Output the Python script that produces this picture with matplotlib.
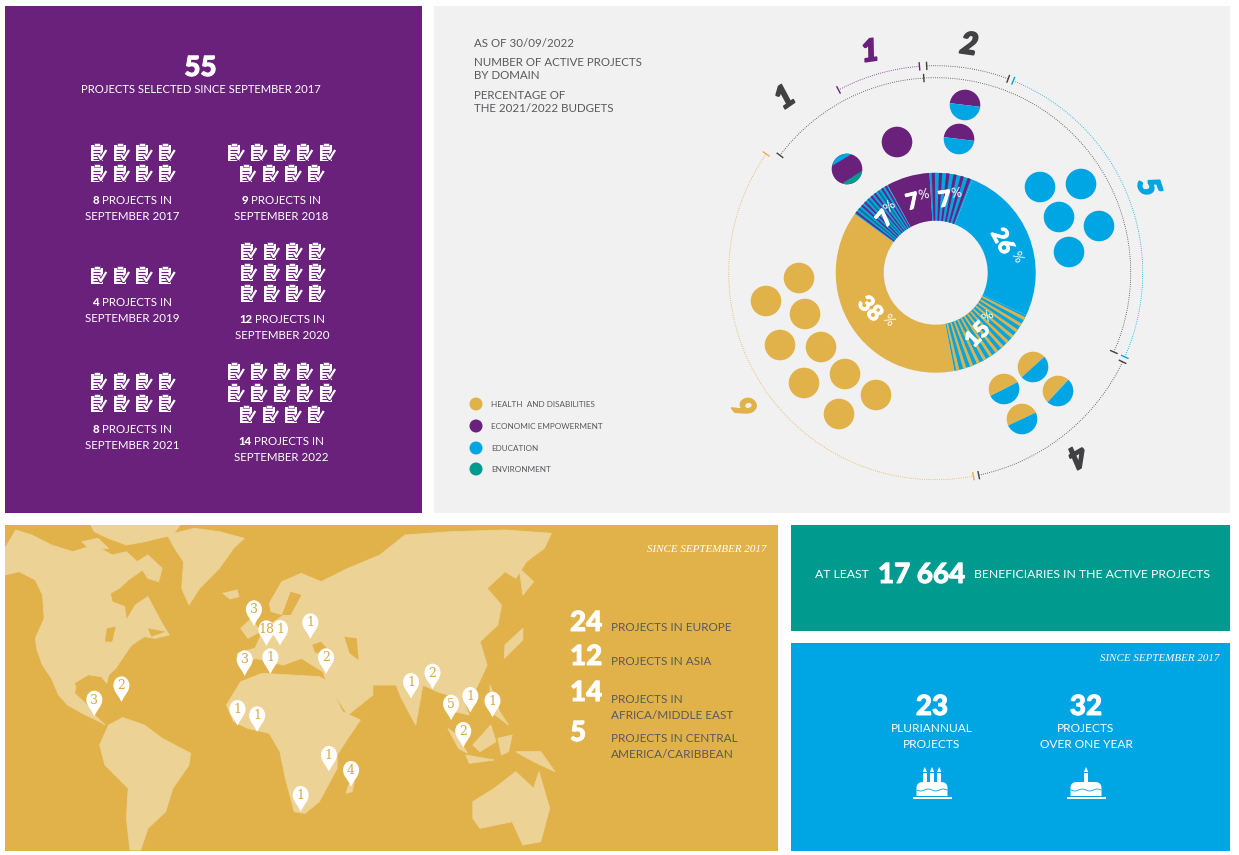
import numpy as np
import matplotlib
matplotlib.use('Agg')
import matplotlib.pyplot as plt
import matplotlib.patheffects as pe
from matplotlib.patches import Rectangle, Circle, Wedge, Polygon, PathPatch
from matplotlib.path import Path

plt.rcParams['font.family'] = ['Lato', 'DejaVu Sans']

PURPLE = '#6A217B'
GOLD = '#E2B24A'
LAND = '#EDD296'
BLUE = '#00A6E3'
TEAL = '#009A8E'
GREY = '#F1F1F2'
DARK = '#58595B'
INK = '#414042'

# donut
domain_shares = [38, 15, 26, 7, 7, 7]
share_labels = ['38', '15', '26', '7', '7', '7']
share_rot = [-47, 47, -62, 8, 14, 50]
ring_numbers = ['1', '1', '2', '5', '4', '6']
legend_names = ['HEALTH  AND DISABILITIES', 'ECONOMIC EMPOWERMENT', 'EDUCATION', 'ENVIRONMENT']

# projects per call
call_counts = [8, 9, 4, 12, 8, 14]
call_months = ['SEPTEMBER 2017', 'SEPTEMBER 2018', 'SEPTEMBER 2019', 'SEPTEMBER 2020', 'SEPTEMBER 2021', 'SEPTEMBER 2022']
call_rows = [[4, 4], [5, 4], [4], [4, 4, 4], [4, 4], [5, 5, 4]]

# map pins
pin_counts = [3, 18, 1, 1, 3, 1, 2, 2, 3, 1, 1, 1, 4, 1, 1, 2, 5, 1, 1, 2]
region_counts = ['24', '12', '14', '5']

fig = plt.figure(figsize=(12.39, 8.55), dpi=100, facecolor='white')
ax = fig.add_axes([0, 0, 1, 1], zorder=1)
ax.set_xlim(0, 1239)
ax.set_ylim(855, 0)
ax.axis('off')


def panel(x0, y0, x1, y1, color):
    r = Rectangle((x0, y0), x1 - x0, y1 - y0, fc=color, ec='none')
    ax.add_patch(r)
    return r


def heavy(t, color, w=0.7):
    # the installed bold is lighter than the one in the picture
    t.set_path_effects([pe.withStroke(linewidth=w, foreground=color)])
    return t


def mixed(x, y, first, rest, size1, size2, color):
    # bold part then regular part on one baseline
    t1 = ax.text(x, y, first, fontsize=size1, color=color, fontweight='black', va='baseline', ha='left')
    t2 = ax.text(x, y, rest, fontsize=size2, color=color, va='baseline', ha='left')
    r = fig.canvas.get_renderer()
    w1 = t1.get_window_extent(r).width
    w2 = t2.get_window_extent(r).width
    left = x - (w1 + w2 + 3) / 2
    t1.set_x(left)
    t2.set_x(left + w1 + 3)


def clipboard(x, y):
    ax.add_patch(Rectangle((x - 7, y - 7.5), 12, 16, fc='white', ec='none'))
    ax.add_patch(Rectangle((x - 4, y - 9.5), 6, 3, fc='white', ec=PURPLE, lw=0.4))
    for dy in (-3, 0, 3, 6):
        ax.plot([x - 5, x + 2], [y + dy, y + dy], color=PURPLE, lw=0.8, solid_capstyle='butt')
    ax.plot([x + 0.5, x + 3, x + 8.5], [y + 2, y + 6, y - 3], color=PURPLE, lw=3.0, solid_capstyle='butt')
    ax.plot([x + 0.5, x + 3, x + 8.5], [y + 2, y + 6, y - 3], color='white', lw=1.6, solid_capstyle='butt')


# ---- purple panel
panel(5, 6, 422, 513, PURPLE)
heavy(ax.text(200.5, 76, '55', color='white', fontsize=20, fontweight='black', ha='center', va='baseline'), 'white')
ax.text(201, 93, 'PROJECTS SELECTED SINCE SEPTEMBER 2017', color='white', fontsize=8.1, ha='center', va='baseline')

group_x = [132, 281, 132, 282, 132, 281]
group_y = [153, 153, 275, 251, 382, 372]
label_y = [204, 204, 306, 323, 433, 445]
for i in range(6):
    for j, n in enumerate(call_rows[i]):
        for k in range(n):
            clipboard(group_x[i] + (k - (n - 1) / 2) * 22.8, group_y[i] + j * 21)
    mixed(group_x[i], label_y[i], str(call_counts[i]), 'PROJECTS IN', 8.3, 8.3, 'white')
    ax.text(group_x[i], label_y[i] + 16, call_months[i], color='white', fontsize=8.3, ha='center', va='baseline')

# ---- donut panel
panel(434, 6, 1230, 513, GREY)
for y, s in zip([47, 66, 79, 99, 112], ['AS OF 30/09/2022', 'NUMBER OF ACTIVE PROJECTS', 'BY DOMAIN',
                                         'PERCENTAGE OF', 'THE 2021/2022 BUDGETS']):
    ax.text(474, y, s, color=DARK, fontsize=8.3, va='baseline')

for y, c, s in zip([404, 426, 448, 469], [GOLD, PURPLE, BLUE, TEAL], legend_names):
    ax.add_patch(Circle((476, y), 6.5, fc=c, ec='none'))
    ax.text(491, y + 3, s, color=DARK, fontsize=5.9, va='baseline')

CX, CY = 935.7, 272.7


def wedge(cx, cy, r, a1, a2, color, z=3):
    # screen angles, y axis is flipped
    w = Wedge((cx, cy), r, -a2, -a1, fc=color, ec='none', zorder=z)
    ax.add_patch(w)
    return w


def arc(r, a1, a2, color):
    t = np.radians(np.linspace(a1, a2, 200))
    ax.plot(CX + r * np.cos(t), CY - r * np.sin(t), color=color, lw=0.6, ls=(0, (1, 1.6)))


def tick(r, a, color):
    t = np.radians(a)
    ax.plot([CX + (r - 3.5) * np.cos(t), CX + (r + 3.5) * np.cos(t)],
            [CY - (r - 3.5) * np.sin(t), CY - (r + 3.5) * np.sin(t)], color=color, lw=1.0)


arc(195, -24, 143, INK)
tick(195, 143, INK)
tick(195, 93.5, INK)
tick(195, -24, INK)
arc(207, 94.5, 118, PURPLE)
tick(207, 94.5, PURPLE)
tick(207, 118, PURPLE)
arc(207, 69.5, 92.5, INK)
tick(207, 92.5, INK)
tick(207, 69.5, INK)
arc(207, -24, 68, BLUE)
tick(207, 68, BLUE)
tick(207, -24, BLUE)
arc(207, -78, -25.5, INK)
tick(207, -25.5, INK)
tick(207, -78, INK)
arc(207, 145, 280.5, GOLD)
tick(207, 145, GOLD)
tick(207, 280.5, GOLD)

num_x = [785, 870, 969, 1148, 1077, 747]
num_y = [98, 52, 45, 187, 455, 407]
num_rot = [35, 8, -8, -72, -150, 125]
num_col = [INK, PURPLE, INK, BLUE, INK, GOLD]
for i in range(6):
    heavy(ax.text(num_x[i], num_y[i], ring_numbers[i], color=num_col[i], fontsize=22, fontweight='black',
                  style='italic', rotation=num_rot[i], ha='center', va='center', rotation_mode='anchor'), num_col[i], 1.2)

R = 15.3
gold_x = [799, 766, 805, 780, 821, 804, 845, 876, 839]
gold_y = [278, 301, 314, 345, 347, 383, 374, 395, 414]
for x, y in zip(gold_x, gold_y):
    ax.add_patch(Circle((x, y), R, fc=GOLD, ec='none'))
blue_x = [1040, 1081, 1059, 1099, 1069]
blue_y = [187, 184, 217, 226, 252]
for x, y in zip(blue_x, blue_y):
    ax.add_patch(Circle((x, y), R, fc=BLUE, ec='none'))
half_x = [1033, 1004, 1058, 1022]
half_y = [367, 389, 391, 419]
half_a = [42, 27, 47, 25]
for x, y, a in zip(half_x, half_y, half_a):
    wedge(x, y, R, a, a + 180, GOLD)
    wedge(x, y, R, a + 180, a + 360, BLUE)
for x, y in zip([965, 959], [105, 139]):
    wedge(x, y, R, -7, 173, PURPLE)
    wedge(x, y, R, 173, 353, BLUE)
ax.add_patch(Circle((897, 142), R, fc=PURPLE, ec='none'))
clip = Circle((847, 169), R, fc=PURPLE, ec='none', zorder=3)
ax.add_patch(clip)
up = Polygon([(825, 170), (862, 148), (835, 140)], fc=BLUE, ec='none', zorder=4)
low = Polygon([(835, 188), (868, 167), (868, 190), (840, 190)], fc=TEAL, ec='none', zorder=4)
ax.add_patch(up)
ax.add_patch(low)
up.set_clip_path(clip)
low.set_clip_path(clip)

dax = fig.add_axes([(CX - 100) / 1239, 1 - (CY + 100) / 855, 200 / 1239, 200 / 855], zorder=2)
dax.patch.set_alpha(0)
wedges, _ = dax.pie(domain_shares, startangle=144, radius=1, colors=[GOLD, BLUE, BLUE, BLUE, PURPLE, BLUE],
                    wedgeprops=dict(width=0.48, linewidth=0))
dax.set_xlim(-1, 1)
dax.set_ylim(-1, 1)

stripe_n = [0, 13, 0, 6, 0, 10]
stripe_col = [None, [GOLD], None, [PURPLE], None, [PURPLE, PURPLE, '#0F6F8C']]
for w, n, cols in zip(wedges, stripe_n, stripe_col):
    if n == 0:
        continue
    step = (w.theta2 - w.theta1) / n
    for k in range(n):
        a = w.theta1 + (k + 0.25) * step
        dax.add_patch(Wedge((0, 0), 1, a, a + step * 0.45, width=0.48, fc=cols[k % len(cols)], ec='none'))

for w, s, rot in zip(wedges, share_labels, share_rot):
    mid = np.radians((w.theta1 + w.theta2) / 2)
    x, y = 0.74 * np.cos(mid), 0.74 * np.sin(mid)
    r = np.radians(rot)
    dx = 0.06 * len(s)
    heavy(dax.text(x - dx * 0.4 * np.cos(r), y - dx * 0.4 * np.sin(r), s, color='white', fontsize=16, fontweight='black',
                   rotation=rot, ha='center', va='center', rotation_mode='anchor'), 'white')
    off = 0.04 + dx
    dax.text(x + off * np.cos(r) - 0.05 * np.sin(r), y + off * np.sin(r) + 0.05 * np.cos(r), '%', color='white',
             fontsize=9.5, rotation=rot, ha='center', va='center', rotation_mode='anchor')

# ---- map panel
map_rect = panel(5, 525, 778, 851, GOLD)
land = [
    [(0, 70), (30, 15), (75, 30), (130, 60), (190, 80), (250, 60), (300, 90), (340, 80), (370, 110), (400, 90), (440, 130),
     (430, 170), (400, 160), (385, 135), (345, 165), (320, 190), (295, 205), (300, 230), (335, 245), (340, 285), (365, 240),
     (400, 215), (420, 255), (440, 295), (460, 330), (420, 340), (390, 335), (355, 360), (335, 390), (310, 430), (290, 450),
     (285, 475), (270, 455), (235, 450), (200, 475), (195, 505), (225, 535), (250, 570), (280, 600), (265, 590), (225, 570),
     (175, 540), (150, 510), (130, 460), (105, 420), (90, 375), (85, 340), (110, 280), (105, 210), (85, 165), (40, 140), (0, 150)],
    [(455, 30), (530, 10), (600, 20), (670, 40), (640, 70), (600, 130), (545, 190), (515, 240), (495, 190), (500, 110), (475, 70)],
    [(240, 0), (490, 0), (470, 30), (390, 50), (340, 60), (290, 40), (250, 20)],
    [(215, 50), (260, 40), (290, 70), (240, 75)],
    [(290, 600), (330, 578), (390, 600), (440, 640), (520, 685), (515, 720), (470, 790), (450, 860), (400, 910), (380, 975),
     (350, 975), (340, 880), (345, 790), (280, 720), (265, 660)],
    [(620, 540), (660, 470), (720, 445), (800, 450), (880, 455), (905, 470), (945, 560), (995, 585), (960, 640), (930, 690),
     (930, 730), (880, 830), (840, 865), (810, 860), (785, 760), (770, 680), (740, 625), (680, 610), (640, 590)],
    [(962, 780), (978, 770), (972, 800), (955, 805)],
    [(665, 425), (650, 385), (700, 370), (715, 335), (740, 300), (780, 270), (745, 260), (740, 235), (775, 170), (830, 145),
     (885, 170), (960, 130), (1050, 90), (1120, 30), (1250, 20), (1400, 15), (1530, 25), (1510, 70), (1460, 110), (1430, 160),
     (1400, 140), (1350, 190), (1390, 240), (1380, 300), (1330, 350), (1350, 420), (1320, 490), (1280, 520), (1300, 570),
     (1260, 560), (1240, 510), (1210, 500), (1170, 480), (1150, 600), (1110, 520), (1095, 480), (1030, 480), (1030, 510),
     (960, 570), (900, 470), (890, 440), (830, 400), (780, 420), (700, 400)],
    [(660, 310), (690, 280), (715, 320), (680, 340)],
    [(610, 205), (650, 195), (655, 215), (630, 222)],
    [(1240, 610), (1265, 630), (1295, 685), (1270, 670)],
    [(1310, 660), (1360, 600), (1375, 650), (1330, 680)],
    [(1358, 480), (1385, 560), (1410, 600), (1360, 560)],
    [(1290, 690), (1370, 705), (1300, 715)],
    [(1380, 640), (1420, 630), (1410, 680), (1390, 690)],
    [(1430, 680), (1500, 680), (1540, 740), (1480, 710)],
    [(1310, 830), (1370, 790), (1430, 740), (1480, 790), (1495, 740), (1525, 850), (1500, 950), (1450, 960), (1420, 890),
     (1330, 910), (1310, 880)],
    [(1398, 400), (1400, 360), (1450, 310), (1450, 345)],
    [(1440, 130), (1480, 170), (1450, 210), (1445, 170)],
]
for p in land:
    pts = [(5 + x / 2.8, 525 + y / 3) for x, y in p]
    poly = Polygon(pts, fc=LAND, ec=LAND, lw=0.6)
    ax.add_patch(poly)
    poly.set_clip_path(map_rect)
water = [
    [(860, 360), (885, 350), (905, 375), (870, 385)],
    [(950, 335), (985, 340), (990, 405), (965, 385)],
    [(800, 200), (830, 210), (800, 270), (775, 270)],
    [(285, 310), (310, 305), (300, 350), (280, 350)],
    [(400, 310), (450, 320), (410, 335)],
    [(195, 475), (235, 450), (285, 475), (250, 510), (210, 500)],
]
for p in water:
    ax.add_patch(Polygon([(5 + x / 2.8, 525 + y / 3) for x, y in p], fc=GOLD, ec='none'))

pin_x = [697, 732, 770, 855, 671, 743, 899, 326, 250, 651, 706, 907, 969, 828, 1137, 1197, 1249, 1303, 1365, 1283]
pin_y = [253, 313, 312, 292, 403, 397, 397, 481, 524, 552, 571, 690, 735, 810, 471, 443, 536, 513, 527, 618]
for i in range(len(pin_counts)):
    x, y = 5 + pin_x[i] / 2.8, 525 + pin_y[i] / 3
    verts = [(x, y + 16.5), (x - 3, y + 10), (x - 8, y + 6), (x - 8, y),
             (x - 8, y - 5), (x - 4.5, y - 9), (x, y - 9),
             (x + 4.5, y - 9), (x + 8, y - 5), (x + 8, y),
             (x + 8, y + 6), (x + 3, y + 10), (x, y + 16.5)]
    codes = [Path.MOVETO] + [Path.CURVE4] * 12
    ax.add_patch(PathPatch(Path(verts, codes), fc='white', ec='none'))
    ax.text(x, y + 0.5, str(pin_counts[i]), color='#D9A848', fontsize=9, family='DejaVu Serif', ha='center', va='center')

ax.text(766, 552, 'SINCE SEPTEMBER 2017', color='white', fontsize=7.9, style='italic', family='Liberation Serif', ha='right', va='baseline')
for s, y in zip(region_counts, [631, 665, 701, 741]):
    heavy(ax.text(570, y, s, color='white', fontsize=20, fontweight='black', va='baseline'), 'white')
for s, y in zip(['PROJECTS IN EUROPE', 'PROJECTS IN ASIA', 'PROJECTS IN', 'AFRICA/MIDDLE EAST', 'PROJECTS IN CENTRAL', 'AMERICA/CARIBBEAN'],
                [631, 665, 703, 719, 742, 758]):
    ax.text(611, y, s, color=DARK, fontsize=8.45, va='baseline')

# ---- teal panel
panel(791, 525, 1230, 631, TEAL)
ax.text(815, 578, 'AT LEAST', color='white', fontsize=8.85, va='baseline')
heavy(ax.text(878, 583, '17 664', color='white', fontsize=20, fontweight='black', va='baseline'), 'white')
ax.text(974, 578, 'BENEFICIARIES IN THE ACTIVE PROJECTS', color='white', fontsize=8.85, va='baseline')

# ---- blue panel
panel(791, 643, 1230, 851, BLUE)
ax.text(1219, 661, 'SINCE SEPTEMBER 2017', color='white', fontsize=7.9, style='italic', family='Liberation Serif', ha='right', va='baseline')
duration_values = ['23', '32']
duration_lines = [['PLURIANNUAL', 'PROJECTS'], ['PROJECTS', 'OVER ONE YEAR']]
candle_counts = [3, 1]
for cx, v, lines, n in zip([932, 1086], duration_values, duration_lines, candle_counts):
    heavy(ax.text(cx, 715, v, color='white', fontsize=20, fontweight='black', ha='center', va='baseline'), 'white')
    ax.text(cx, 732, lines[0], color='white', fontsize=8.55, ha='center', va='baseline')
    ax.text(cx, 748, lines[1], color='white', fontsize=8.55, ha='center', va='baseline')
    # cake
    ax.add_patch(Rectangle((cx - 19.5, 797), 39, 2, fc='white', ec='none'))
    verts = [(cx - 15.5, 796), (cx - 15.5, 788), (cx - 15.5, 782), (cx - 9, 782), (cx, 782), (cx + 9, 782), (cx + 15.5, 782),
             (cx + 15.5, 788), (cx + 15.5, 796), (cx - 15.5, 796)]
    codes = [Path.MOVETO, Path.LINETO, Path.CURVE3, Path.CURVE3, Path.LINETO, Path.LINETO, Path.CURVE3, Path.CURVE3, Path.LINETO, Path.CLOSEPOLY]
    ax.add_patch(PathPatch(Path(verts, codes), fc='white', ec='none'))
    ax.plot(np.linspace(cx - 15, cx + 15, 40), 790 + np.sin(np.linspace(0, 4 * np.pi, 40)), color=BLUE, lw=0.6)
    for k in range(n):
        c = cx + (k - (n - 1) / 2) * 7.2
        ax.add_patch(Rectangle((c - 1.8, 773), 3.6, 10, fc='white', ec='none'))
        ax.add_patch(Polygon([(c - 2.2, 772), (c, 767), (c + 2.2, 772)], fc='white', ec='none'))

fig.savefig('out.png', dpi=100)
